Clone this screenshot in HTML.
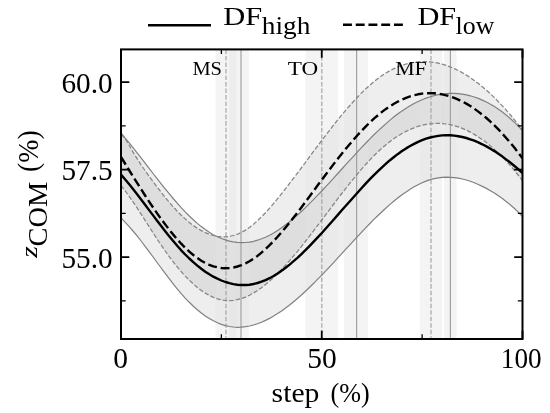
<!DOCTYPE html>
<html lang="en"><head><meta charset="utf-8"><title>zCOM vs step</title>
<style>
html,body{margin:0;padding:0;background:#fff;}
body{width:550px;height:413px;overflow:hidden;}
svg{display:block;}
text{font-family:'Liberation Serif', serif;fill:#000;}
</style></head><body>
<svg width="550" height="413" viewBox="0 0 550 413">
<rect width="550" height="413" fill="#fff"/>
<defs><clipPath id="ax"><rect x="121.0" y="49.4" width="401.5" height="289.6"/></clipPath></defs>
<g clip-path="url(#ax)">
<path d="M121.0 133.0L125.0 137.8L129.0 142.7L133.0 147.7L137.1 152.8L141.1 157.9L145.1 163.1L149.1 168.3L153.1 173.5L157.1 178.7L161.2 183.8L165.2 188.8L169.2 193.7L173.2 198.5L177.2 203.1L181.2 207.6L185.2 211.9L189.3 216.0L193.3 219.8L197.3 223.4L201.3 226.6L205.3 229.6L209.3 232.3L213.3 234.7L217.4 236.7L221.4 238.5L225.4 239.9L229.4 241.1L233.4 241.9L237.4 242.4L241.4 242.6L245.5 242.5L249.5 242.1L253.5 241.3L257.5 240.2L261.5 238.8L265.5 237.2L269.6 235.2L273.6 233.0L277.6 230.5L281.6 227.8L285.6 224.8L289.6 221.7L293.6 218.3L297.7 214.8L301.7 211.2L305.7 207.4L309.7 203.4L313.7 199.4L317.7 195.2L321.8 191.0L325.8 186.7L329.8 182.3L333.8 177.9L337.8 173.5L341.8 169.0L345.8 164.6L349.9 160.2L353.9 155.8L357.9 151.4L361.9 147.2L365.9 143.0L369.9 138.8L373.9 134.8L378.0 130.9L382.0 127.2L386.0 123.6L390.0 120.1L394.0 116.8L398.0 113.7L402.0 110.9L406.1 108.2L410.1 105.8L414.1 103.5L418.1 101.5L422.1 99.7L426.1 98.1L430.2 96.8L434.2 95.6L438.2 94.7L442.2 94.1L446.2 93.6L450.2 93.4L454.2 93.4L458.3 93.6L462.3 94.1L466.3 94.8L470.3 95.8L474.3 97.0L478.3 98.4L482.3 100.1L486.4 102.0L490.4 104.2L494.4 106.6L498.4 109.2L502.4 112.1L506.4 115.3L510.5 118.7L514.5 122.4L518.5 126.3L522.5 130.5L522.5 216.5L518.5 212.4L514.5 208.5L510.5 205.0L506.4 201.7L502.4 198.6L498.4 195.8L494.4 193.1L490.4 190.7L486.4 188.4L482.3 186.4L478.3 184.5L474.3 182.8L470.3 181.3L466.3 180.0L462.3 179.0L458.3 178.1L454.2 177.6L450.2 177.3L446.2 177.2L442.2 177.4L438.2 177.9L434.2 178.7L430.2 179.7L426.1 181.1L422.1 182.8L418.1 184.7L414.1 186.8L410.1 189.2L406.1 191.9L402.0 194.7L398.0 197.8L394.0 201.0L390.0 204.4L386.0 208.0L382.0 211.7L378.0 215.5L373.9 219.4L369.9 223.5L365.9 227.6L361.9 231.8L357.9 236.1L353.9 240.4L349.9 244.8L345.8 249.2L341.8 253.6L337.8 257.9L333.8 262.3L329.8 266.6L325.8 270.9L321.8 275.1L317.7 279.2L313.7 283.3L309.7 287.2L305.7 291.0L301.7 294.7L297.7 298.3L293.6 301.7L289.6 305.0L285.6 308.0L281.6 310.9L277.6 313.6L273.6 316.1L269.6 318.4L265.5 320.4L261.5 322.2L257.5 323.7L253.5 325.0L249.5 326.0L245.5 326.7L241.4 327.2L237.4 327.3L233.4 327.0L229.4 326.5L225.4 325.6L221.4 324.4L217.4 322.8L213.3 320.8L209.3 318.5L205.3 315.9L201.3 313.0L197.3 309.7L193.3 306.2L189.3 302.3L185.2 298.1L181.2 293.6L177.2 288.8L173.2 283.8L169.2 278.7L165.2 273.4L161.2 268.0L157.1 262.5L153.1 257.0L149.1 251.6L145.1 246.3L141.1 241.0L137.1 235.9L133.0 231.0L129.0 226.4L125.0 222.1L121.0 218.0Z" fill="#000" fill-opacity="0.068"/>
<path d="M121.0 134.2L125.0 138.4L129.0 145.0L133.0 152.1L137.1 158.6L141.1 164.8L145.1 170.6L149.1 176.2L153.1 181.7L157.1 187.1L161.2 192.3L165.2 197.4L169.2 202.2L173.2 206.8L177.2 211.2L181.2 215.2L185.2 218.9L189.3 222.4L193.3 225.5L197.3 228.2L201.3 230.6L205.3 232.6L209.3 234.3L213.3 235.5L217.4 236.4L221.4 236.8L225.4 236.8L229.4 236.4L233.4 235.5L237.4 234.2L241.4 232.4L245.5 230.1L249.5 227.4L253.5 224.2L257.5 220.7L261.5 216.8L265.5 212.7L269.6 208.2L273.6 203.6L277.6 198.7L281.6 193.7L285.6 188.6L289.6 183.4L293.6 178.1L297.7 172.8L301.7 167.4L305.7 162.0L309.7 156.6L313.7 151.2L317.7 145.8L321.8 140.5L325.8 135.2L329.8 130.0L333.8 124.8L337.8 119.8L341.8 114.9L345.8 110.1L349.9 105.5L353.9 101.0L357.9 96.7L361.9 92.6L365.9 88.7L369.9 85.1L373.9 81.6L378.0 78.5L382.0 75.6L386.0 73.0L390.0 70.6L394.0 68.6L398.0 66.8L402.0 65.3L406.1 64.0L410.1 63.0L414.1 62.3L418.1 61.8L422.1 61.6L426.1 61.6L430.2 61.9L434.2 62.4L438.2 63.2L442.2 64.2L446.2 65.4L450.2 66.9L454.2 68.6L458.3 70.5L462.3 72.7L466.3 75.1L470.3 77.7L474.3 80.5L478.3 83.5L482.3 86.7L486.4 90.2L490.4 93.8L494.4 97.6L498.4 101.7L502.4 105.9L506.4 110.3L510.5 115.0L514.5 119.8L518.5 124.8L522.5 129.9L522.5 180.8L518.5 175.5L514.5 170.6L510.5 165.8L506.4 161.3L502.4 157.1L498.4 153.1L494.4 149.4L490.4 145.9L486.4 142.6L482.3 139.6L478.3 136.9L474.3 134.4L470.3 132.1L466.3 130.1L462.3 128.4L458.3 126.9L454.2 125.7L450.2 124.7L446.2 124.0L442.2 123.6L438.2 123.4L434.2 123.5L430.2 123.8L426.1 124.4L422.1 125.3L418.1 126.4L414.1 127.8L410.1 129.5L406.1 131.4L402.0 133.5L398.0 135.9L394.0 138.6L390.0 141.5L386.0 144.7L382.0 148.1L378.0 151.8L373.9 155.7L369.9 159.9L365.9 164.2L361.9 168.7L357.9 173.4L353.9 178.3L349.9 183.2L345.8 188.3L341.8 193.5L337.8 198.7L333.8 204.0L329.8 209.3L325.8 214.7L321.8 220.0L317.7 225.4L313.7 230.7L309.7 235.9L305.7 241.0L301.7 246.1L297.7 251.1L293.6 255.9L289.6 260.6L285.6 265.1L281.6 269.4L277.6 273.5L273.6 277.4L269.6 281.1L265.5 284.5L261.5 287.7L257.5 290.5L253.5 293.0L249.5 295.2L245.5 297.1L241.4 298.6L237.4 299.7L233.4 300.4L229.4 300.6L225.4 300.5L221.4 299.9L217.4 298.8L213.3 297.3L209.3 295.4L205.3 293.1L201.3 290.5L197.3 287.4L193.3 284.0L189.3 280.2L185.2 276.1L181.2 271.7L177.2 266.9L173.2 261.9L169.2 256.6L165.2 251.0L161.2 245.1L157.1 239.1L153.1 232.9L149.1 226.6L145.1 220.3L141.1 214.1L137.1 207.9L133.0 201.9L129.0 196.1L125.0 190.6L121.0 185.4Z" fill="#000" fill-opacity="0.068"/>
<rect x="215.6" y="49.4" width="20.8" height="289.6" fill="#e4e4e4" fill-opacity="0.4"/>
<rect x="305.4" y="49.4" width="32.8" height="289.6" fill="#e4e4e4" fill-opacity="0.4"/>
<rect x="419.8" y="49.4" width="22.4" height="289.6" fill="#e4e4e4" fill-opacity="0.4"/>
<rect x="229.1" y="49.4" width="19.8" height="289.6" fill="#e4e4e4" fill-opacity="0.4"/>
<rect x="344.1" y="49.4" width="23.8" height="289.6" fill="#e4e4e4" fill-opacity="0.4"/>
<rect x="444.0" y="49.4" width="12.6" height="289.6" fill="#e4e4e4" fill-opacity="0.4"/>
<line x1="226.0" y1="49.4" x2="226.0" y2="339.0" stroke="#a8a8a8" stroke-width="1.25" stroke-dasharray="4.55 1.97"/>
<line x1="321.8" y1="49.4" x2="321.8" y2="339.0" stroke="#a8a8a8" stroke-width="1.25" stroke-dasharray="4.55 1.97"/>
<line x1="431.0" y1="49.4" x2="431.0" y2="339.0" stroke="#a8a8a8" stroke-width="1.25" stroke-dasharray="4.55 1.97"/>
<line x1="241.0" y1="49.4" x2="241.0" y2="339.0" stroke="#a2a2a2" stroke-width="1.2"/>
<line x1="356.6" y1="49.4" x2="356.6" y2="339.0" stroke="#a2a2a2" stroke-width="1.2"/>
<line x1="450.4" y1="49.4" x2="450.4" y2="339.0" stroke="#a2a2a2" stroke-width="1.2"/>
<path d="M121.0 133.0L125.0 137.8L129.0 142.7L133.0 147.7L137.1 152.8L141.1 157.9L145.1 163.1L149.1 168.3L153.1 173.5L157.1 178.7L161.2 183.8L165.2 188.8L169.2 193.7L173.2 198.5L177.2 203.1L181.2 207.6L185.2 211.9L189.3 216.0L193.3 219.8L197.3 223.4L201.3 226.6L205.3 229.6L209.3 232.3L213.3 234.7L217.4 236.7L221.4 238.5L225.4 239.9L229.4 241.1L233.4 241.9L237.4 242.4L241.4 242.6L245.5 242.5L249.5 242.1L253.5 241.3L257.5 240.2L261.5 238.8L265.5 237.2L269.6 235.2L273.6 233.0L277.6 230.5L281.6 227.8L285.6 224.8L289.6 221.7L293.6 218.3L297.7 214.8L301.7 211.2L305.7 207.4L309.7 203.4L313.7 199.4L317.7 195.2L321.8 191.0L325.8 186.7L329.8 182.3L333.8 177.9L337.8 173.5L341.8 169.0L345.8 164.6L349.9 160.2L353.9 155.8L357.9 151.4L361.9 147.2L365.9 143.0L369.9 138.8L373.9 134.8L378.0 130.9L382.0 127.2L386.0 123.6L390.0 120.1L394.0 116.8L398.0 113.7L402.0 110.9L406.1 108.2L410.1 105.8L414.1 103.5L418.1 101.5L422.1 99.7L426.1 98.1L430.2 96.8L434.2 95.6L438.2 94.7L442.2 94.1L446.2 93.6L450.2 93.4L454.2 93.4L458.3 93.6L462.3 94.1L466.3 94.8L470.3 95.8L474.3 97.0L478.3 98.4L482.3 100.1L486.4 102.0L490.4 104.2L494.4 106.6L498.4 109.2L502.4 112.1L506.4 115.3L510.5 118.7L514.5 122.4L518.5 126.3L522.5 130.5" fill="none" stroke="#808080" stroke-width="1.2"/>
<path d="M121.0 218.0L125.0 222.1L129.0 226.4L133.0 231.0L137.1 235.9L141.1 241.0L145.1 246.3L149.1 251.6L153.1 257.0L157.1 262.5L161.2 268.0L165.2 273.4L169.2 278.7L173.2 283.8L177.2 288.8L181.2 293.6L185.2 298.1L189.3 302.3L193.3 306.2L197.3 309.7L201.3 313.0L205.3 315.9L209.3 318.5L213.3 320.8L217.4 322.8L221.4 324.4L225.4 325.6L229.4 326.5L233.4 327.0L237.4 327.3L241.4 327.2L245.5 326.7L249.5 326.0L253.5 325.0L257.5 323.7L261.5 322.2L265.5 320.4L269.6 318.4L273.6 316.1L277.6 313.6L281.6 310.9L285.6 308.0L289.6 305.0L293.6 301.7L297.7 298.3L301.7 294.7L305.7 291.0L309.7 287.2L313.7 283.3L317.7 279.2L321.8 275.1L325.8 270.9L329.8 266.6L333.8 262.3L337.8 257.9L341.8 253.6L345.8 249.2L349.9 244.8L353.9 240.4L357.9 236.1L361.9 231.8L365.9 227.6L369.9 223.5L373.9 219.4L378.0 215.5L382.0 211.7L386.0 208.0L390.0 204.4L394.0 201.0L398.0 197.8L402.0 194.7L406.1 191.9L410.1 189.2L414.1 186.8L418.1 184.7L422.1 182.8L426.1 181.1L430.2 179.7L434.2 178.7L438.2 177.9L442.2 177.4L446.2 177.2L450.2 177.3L454.2 177.6L458.3 178.1L462.3 179.0L466.3 180.0L470.3 181.3L474.3 182.8L478.3 184.5L482.3 186.4L486.4 188.4L490.4 190.7L494.4 193.1L498.4 195.8L502.4 198.6L506.4 201.7L510.5 205.0L514.5 208.5L518.5 212.4L522.5 216.5" fill="none" stroke="#808080" stroke-width="1.2"/>
<path d="M121.0 134.2L125.0 138.4L129.0 145.0L133.0 152.1L137.1 158.6L141.1 164.8L145.1 170.6L149.1 176.2L153.1 181.7L157.1 187.1L161.2 192.3L165.2 197.4L169.2 202.2L173.2 206.8L177.2 211.2L181.2 215.2L185.2 218.9L189.3 222.4L193.3 225.5L197.3 228.2L201.3 230.6L205.3 232.6L209.3 234.3L213.3 235.5L217.4 236.4L221.4 236.8L225.4 236.8L229.4 236.4L233.4 235.5L237.4 234.2L241.4 232.4L245.5 230.1L249.5 227.4L253.5 224.2L257.5 220.7L261.5 216.8L265.5 212.7L269.6 208.2L273.6 203.6L277.6 198.7L281.6 193.7L285.6 188.6L289.6 183.4L293.6 178.1L297.7 172.8L301.7 167.4L305.7 162.0L309.7 156.6L313.7 151.2L317.7 145.8L321.8 140.5L325.8 135.2L329.8 130.0L333.8 124.8L337.8 119.8L341.8 114.9L345.8 110.1L349.9 105.5L353.9 101.0L357.9 96.7L361.9 92.6L365.9 88.7L369.9 85.1L373.9 81.6L378.0 78.5L382.0 75.6L386.0 73.0L390.0 70.6L394.0 68.6L398.0 66.8L402.0 65.3L406.1 64.0L410.1 63.0L414.1 62.3L418.1 61.8L422.1 61.6L426.1 61.6L430.2 61.9L434.2 62.4L438.2 63.2L442.2 64.2L446.2 65.4L450.2 66.9L454.2 68.6L458.3 70.5L462.3 72.7L466.3 75.1L470.3 77.7L474.3 80.5L478.3 83.5L482.3 86.7L486.4 90.2L490.4 93.8L494.4 97.6L498.4 101.7L502.4 105.9L506.4 110.3L510.5 115.0L514.5 119.8L518.5 124.8L522.5 129.9" fill="none" stroke="#858585" stroke-width="1.25" stroke-dasharray="4.55 1.97"/>
<path d="M121.0 185.4L125.0 190.6L129.0 196.1L133.0 201.9L137.1 207.9L141.1 214.1L145.1 220.3L149.1 226.6L153.1 232.9L157.1 239.1L161.2 245.1L165.2 251.0L169.2 256.6L173.2 261.9L177.2 266.9L181.2 271.7L185.2 276.1L189.3 280.2L193.3 284.0L197.3 287.4L201.3 290.5L205.3 293.1L209.3 295.4L213.3 297.3L217.4 298.8L221.4 299.9L225.4 300.5L229.4 300.6L233.4 300.4L237.4 299.7L241.4 298.6L245.5 297.1L249.5 295.2L253.5 293.0L257.5 290.5L261.5 287.7L265.5 284.5L269.6 281.1L273.6 277.4L277.6 273.5L281.6 269.4L285.6 265.1L289.6 260.6L293.6 255.9L297.7 251.1L301.7 246.1L305.7 241.0L309.7 235.9L313.7 230.7L317.7 225.4L321.8 220.0L325.8 214.7L329.8 209.3L333.8 204.0L337.8 198.7L341.8 193.5L345.8 188.3L349.9 183.2L353.9 178.3L357.9 173.4L361.9 168.7L365.9 164.2L369.9 159.9L373.9 155.7L378.0 151.8L382.0 148.1L386.0 144.7L390.0 141.5L394.0 138.6L398.0 135.9L402.0 133.5L406.1 131.4L410.1 129.5L414.1 127.8L418.1 126.4L422.1 125.3L426.1 124.4L430.2 123.8L434.2 123.5L438.2 123.4L442.2 123.6L446.2 124.0L450.2 124.7L454.2 125.7L458.3 126.9L462.3 128.4L466.3 130.1L470.3 132.1L474.3 134.4L478.3 136.9L482.3 139.6L486.4 142.6L490.4 145.9L494.4 149.4L498.4 153.1L502.4 157.1L506.4 161.3L510.5 165.8L514.5 170.6L518.5 175.5L522.5 180.8" fill="none" stroke="#858585" stroke-width="1.25" stroke-dasharray="4.55 1.97"/>
<path d="M121.0 174.6L125.0 179.2L129.0 184.1L133.0 189.1L137.1 194.2L141.1 199.4L145.1 204.7L149.1 210.1L153.1 215.4L157.1 220.7L161.2 226.0L165.2 231.2L169.2 236.2L173.2 241.1L177.2 245.8L181.2 250.3L185.2 254.5L189.3 258.5L193.3 262.2L197.3 265.6L201.3 268.8L205.3 271.7L209.3 274.3L213.3 276.7L217.4 278.7L221.4 280.5L225.4 282.0L229.4 283.2L233.4 284.1L237.4 284.7L241.4 285.0L245.5 285.0L249.5 284.7L253.5 284.0L257.5 283.0L261.5 281.7L265.5 280.1L269.6 278.2L273.6 276.0L277.6 273.5L281.6 270.7L285.6 267.8L289.6 264.6L293.6 261.2L297.7 257.6L301.7 253.8L305.7 249.9L309.7 245.8L313.7 241.6L317.7 237.4L321.8 233.0L325.8 228.5L329.8 224.0L333.8 219.5L337.8 214.9L341.8 210.3L345.8 205.8L349.9 201.2L353.9 196.7L357.9 192.2L361.9 187.8L365.9 183.4L369.9 179.2L373.9 175.1L378.0 171.2L382.0 167.3L386.0 163.7L390.0 160.2L394.0 157.0L398.0 153.9L402.0 151.1L406.1 148.4L410.1 146.0L414.1 143.9L418.1 141.9L422.1 140.2L426.1 138.7L430.2 137.5L434.2 136.6L438.2 135.9L442.2 135.4L446.2 135.2L450.2 135.3L454.2 135.6L458.3 136.2L462.3 137.0L466.3 138.0L470.3 139.3L474.3 140.7L478.3 142.4L482.3 144.3L486.4 146.4L490.4 148.7L494.4 151.1L498.4 153.8L502.4 156.6L506.4 159.6L510.5 162.7L514.5 166.0L518.5 169.4L522.5 173.0" fill="none" stroke="#000" stroke-width="2.4" stroke-linejoin="round"/>
<path d="M121.0 157.0L125.0 163.5L129.0 170.0L133.0 176.5L137.1 182.9L141.1 189.2L145.1 195.5L149.1 201.6L153.1 207.5L157.1 213.4L161.2 219.0L165.2 224.4L169.2 229.6L173.2 234.6L177.2 239.3L181.2 243.7L185.2 247.8L189.3 251.6L193.3 255.0L197.3 258.0L201.3 260.7L205.3 263.0L209.3 264.8L213.3 266.3L217.4 267.3L221.4 268.0L225.4 268.2L229.4 268.0L233.4 267.5L237.4 266.5L241.4 265.2L245.5 263.4L249.5 261.3L253.5 258.7L257.5 255.9L261.5 252.6L265.5 249.1L269.6 245.2L273.6 241.1L277.6 236.8L281.6 232.2L285.6 227.5L289.6 222.6L293.6 217.5L297.7 212.3L301.7 207.0L305.7 201.6L309.7 196.2L313.7 190.8L317.7 185.3L321.8 179.9L325.8 174.5L329.8 169.2L333.8 163.9L337.8 158.8L341.8 153.7L345.8 148.8L349.9 144.0L353.9 139.3L357.9 134.8L361.9 130.5L365.9 126.3L369.9 122.4L373.9 118.7L378.0 115.2L382.0 111.9L386.0 108.9L390.0 106.2L394.0 103.7L398.0 101.5L402.0 99.5L406.1 97.8L410.1 96.4L414.1 95.2L418.1 94.3L422.1 93.6L426.1 93.3L430.2 93.2L434.2 93.3L438.2 93.7L442.2 94.4L446.2 95.3L450.2 96.5L454.2 97.9L458.3 99.6L462.3 101.5L466.3 103.6L470.3 106.0L474.3 108.7L478.3 111.6L482.3 114.7L486.4 118.0L490.4 121.6L494.4 125.4L498.4 129.4L502.4 133.7L506.4 138.2L510.5 142.9L514.5 147.8L518.5 152.9L522.5 158.3" fill="none" stroke="#000" stroke-width="2.4" stroke-dasharray="8.9 3.84" stroke-linejoin="round"/>
</g>
<path d="M121.0 257.05h8.3M522.5 257.05h-8.3M121.0 169.55h8.3M522.5 169.55h-8.3M121.0 82.05h8.3M522.5 82.05h-8.3M121.00 49.4v8.3M121.00 339.0v-8.3M321.75 49.4v8.3M321.75 339.0v-8.3M522.50 49.4v8.3M522.50 339.0v-8.3" stroke="#000" stroke-width="1.8" fill="none"/>
<path d="M121.0 300.80h4.7M522.5 300.80h-4.7M121.0 213.30h4.7M522.5 213.30h-4.7M121.0 125.80h4.7M522.5 125.80h-4.7M221.38 49.4v4.7M221.38 339.0v-4.7M422.12 49.4v4.7M422.12 339.0v-4.7" stroke="#000" stroke-width="1.3" fill="none"/>
<rect x="121.0" y="49.4" width="401.5" height="289.6" fill="none" stroke="#000" stroke-width="2"/>
<text x="192.4" y="74.7" font-size="19.5" textLength="29.6" lengthAdjust="spacingAndGlyphs">MS</text>
<text x="287.8" y="74.8" font-size="19.5" textLength="30.4" lengthAdjust="spacingAndGlyphs">TO</text>
<text x="395.2" y="74.6" font-size="19.5" textLength="31.6" lengthAdjust="spacingAndGlyphs">MF</text>
<text x="61.4" y="92.6" font-size="29.5" textLength="51.2" lengthAdjust="spacingAndGlyphs">60.0</text>
<text x="61.4" y="180.1" font-size="29.5" textLength="51.2" lengthAdjust="spacingAndGlyphs">57.5</text>
<text x="61.4" y="267.6" font-size="29.5" textLength="51.2" lengthAdjust="spacingAndGlyphs">55.0</text>
<text x="120.6" y="367.6" font-size="29.5" text-anchor="middle">0</text>
<text x="321.9" y="367.6" font-size="29.5" text-anchor="middle">50</text>
<text x="500.8" y="367.6" font-size="29.5" textLength="40.8" lengthAdjust="spacingAndGlyphs">100</text>
<text y="402.4" font-size="27.5"><tspan x="271.6" textLength="47.8" lengthAdjust="spacingAndGlyphs">step</tspan><tspan x="322" textLength="8"> </tspan><tspan x="330.6" textLength="39.2" lengthAdjust="spacingAndGlyphs">(%)</tspan></text>
<g transform="translate(46.6 258.5) rotate(-90)"><text font-size="28"><tspan x="0.8" y="-9.9" font-size="23.5" font-style="italic" textLength="11.6" lengthAdjust="spacingAndGlyphs">z</tspan><tspan x="12.0" y="0" textLength="64.6" lengthAdjust="spacingAndGlyphs">COM</tspan><tspan x="78" y="-9" textLength="8"> </tspan><tspan x="86.6" y="-9" font-size="29.5" textLength="41.6" lengthAdjust="spacingAndGlyphs">(%)</tspan></text></g>
<line x1="148" y1="25.3" x2="211" y2="25.3" stroke="#000" stroke-width="2.4"/>
<line x1="343" y1="24.8" x2="406" y2="24.8" stroke="#000" stroke-width="2.4" stroke-dasharray="8.9 3.84"/>
<text font-size="26"><tspan x="223.2" y="25" textLength="39" lengthAdjust="spacingAndGlyphs">DF</tspan><tspan x="261.8" y="34" textLength="48.6" lengthAdjust="spacingAndGlyphs">high</tspan></text>
<text font-size="26"><tspan x="417.4" y="24.6" textLength="38.8" lengthAdjust="spacingAndGlyphs">DF</tspan><tspan x="455.6" y="34" textLength="38.8" lengthAdjust="spacingAndGlyphs">low</tspan></text>
</svg></body></html>
